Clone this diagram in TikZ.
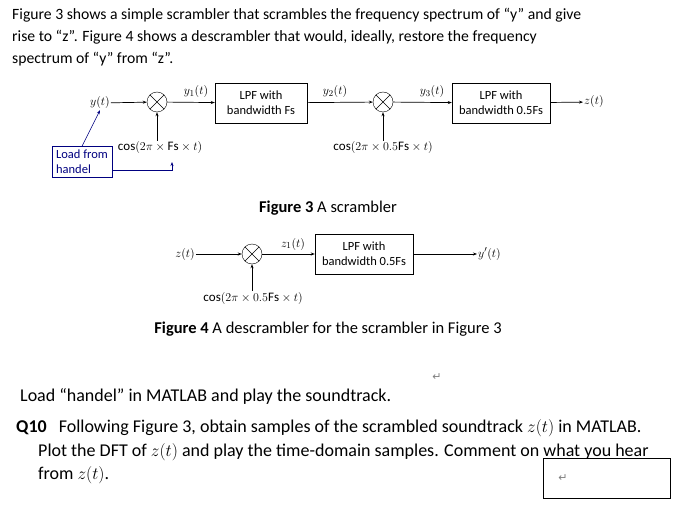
\documentclass[tikz,border=0pt]{standalone}
\usepackage{fontspec}
\setmainfont{Carlito}
\newfontfamily\symfont{DejaVu Sans}
\usetikzlibrary{arrows.meta}
\begin{document}
\begin{tikzpicture}[x=1pt,y=-1pt,
  mult/.style={draw,circle,minimum size=20pt,inner sep=0pt,
    path picture={\draw (path picture bounding box.north west)--(path picture bounding box.south east)
      (path picture bounding box.north east)--(path picture bounding box.south west);}},
  blk/.style={draw,align=center,font=\fontsize{12.5}{15}\selectfont,inner sep=0pt},
  lbl/.style={font=\fontsize{13}{15}\selectfont,inner sep=1pt},
  sig/.style={-{Stealth[length=4pt,width=3pt]},line width=0.7pt},
  body/.style={font=\fontsize{15.7}{18}\selectfont,anchor=west,inner sep=0pt},
  qt/.style={body,font=\fontsize{18}{20}\selectfont},
  figcap/.style={font=\fontsize{16.5}{18}\selectfont},
  ret/.style={text=gray,font=\symfont\fontsize{11}{12}\selectfont,inner sep=0pt}]
\useasboundingbox (0,0) rectangle (690,505);
% intro text
\node[body] (t1) at (12,15) {Figure 3 shows a simple scrambler that scrambles the frequency spectrum of “y” and give};
\node[body] (t2) at (12,37) {rise to “z”. Figure 4 shows a descrambler that would, ideally, restore the frequency};
\node[body] (t3) at (12,59) {spectrum of “y” from “z”.};
% figure 3
\node[lbl] (y) at (100,103) {$y(t)$};
\node[mult] (m1) at (157,102) {};
\node[blk,minimum width=92pt,minimum height=40pt] (b1) at (261,103) {LPF with\\bandwidth Fs};
\node[mult] (m2) at (383,102) {};
\node[blk,minimum width=98pt,minimum height=40pt] (b2) at (501,103) {LPF with\\bandwidth 0.5Fs};
\node[lbl,anchor=west] (z) at (583,102) {$z(t)$};
\node[lbl] (y1) at (196,92) {$y_1(t)$};
\node[lbl] (y2) at (335,92) {$y_2(t)$};
\node[lbl] (y3) at (432,92) {$y_3(t)$};
\node[lbl] (c1) at (160,148) {$\cos(2\pi\times\mathrm{Fs}\times t)$};
\node[lbl] (c2) at (383,148) {$\cos(2\pi\times0.5\mathrm{Fs}\times t)$};
\draw[sig] (y) -- (m1);
\draw[sig] (m1) -- (b1);
\draw[sig] (b1) -- (m2);
\draw[sig] (m2) -- (b2);
\draw[sig] (b2) -- (z);
\draw[sig] (c1.north -| m1) -- (m1);
\draw[sig] (c2.north) -- (m2);
\node[draw=blue!50!black,font=\fontsize{12.5}{15}\selectfont,text=blue!50!black,align=left,
  minimum width=60pt,minimum height=31pt,inner sep=2pt] (ld) at (82,162) {Load from\\handel};
\coordinate (up) at (172,162);
\draw[sig,blue!50!black,line width=0.6pt] (ld.north) -- (y.south);
\draw[sig,blue!50!black,line width=0.6pt] (ld.east |- 0,170) -| (up);
\node[figcap] (f3) at (328,208) {\textbf{Figure 3} A scrambler};
% figure 4
\node[lbl] (zi) at (185,254) {$z(t)$};
\node[mult] (m3) at (252,254) {};
\node[blk,minimum width=98pt,minimum height=40pt] (b3) at (364,254) {LPF with\\bandwidth 0.5Fs};
\node[lbl,anchor=west] (yo) at (477,254) {$y'(t)$};
\node[lbl] (z1) at (293,244) {$z_1(t)$};
\node[lbl] (c3) at (253,298) {$\cos(2\pi\times0.5\mathrm{Fs}\times t)$};
\draw[sig] (zi) -- (m3);
\draw[sig] (m3) -- (b3);
\draw[sig] (b3) -- (yo);
\draw[sig] (c3.north -| m3) -- (m3);
\node[figcap] (f4) at (328,329) {\textbf{Figure 4} A descrambler for the scrambler in Figure 3};
% question text
\node[ret] (r1) at (437,377) {↵};
\node[qt] (l1) at (20,396) {Load “handel” in MATLAB and play the soundtrack.};
\node[qt] (q1) at (16,428) {\textbf{Q10}\hspace{12pt}Following Figure 3, obtain samples of the scrambled soundtrack $z(t)$ in MATLAB.};
\node[qt] (q2) at (38,452) {Plot the DFT of $z(t)$ and play the time-domain samples. Comment on what you hear};
\node[qt] (q3) at (38,475) {from $z(t)$.};
\draw (543,458) rectangle (670,498);
\node[ret] (r2) at (563,478) {↵};
\end{tikzpicture}
\end{document}
